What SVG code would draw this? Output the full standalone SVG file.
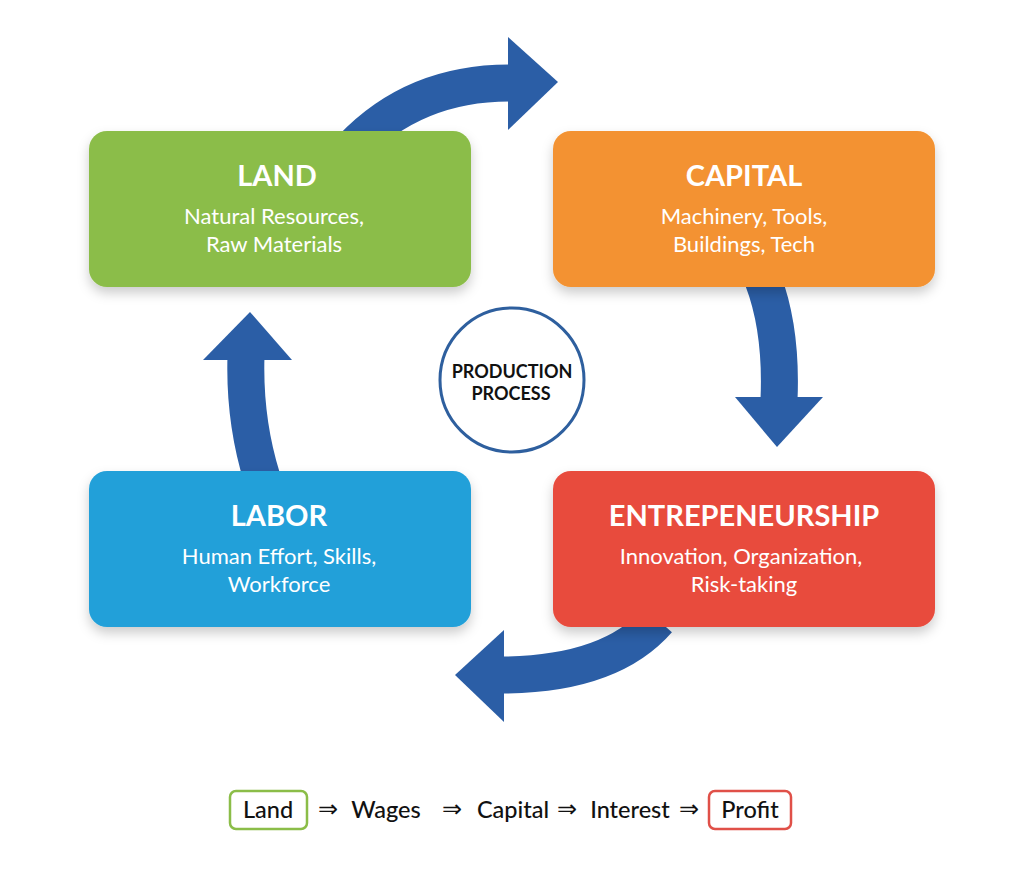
<svg xmlns="http://www.w3.org/2000/svg" width="1024" height="889" viewBox="0 0 1024 889">
<defs>
<style>
.box{stroke:none}
.t{font-family:Lato,"Liberation Sans",sans-serif;fill:#fff;text-anchor:middle}
.h{font-size:29px;font-weight:700}
.s{font-size:22px}
.arr{fill:none;stroke:#2b5ea6;stroke-width:37}
.head{fill:#2b5ea6}
.lg{font-family:Lato,"Liberation Sans",sans-serif;font-size:23.5px;fill:#111;font-weight:500}
.pp{font-family:Lato,"Liberation Sans",sans-serif;font-size:18px;font-weight:700;fill:#111;text-anchor:middle}
</style>
<filter id="sh" x="-10%" y="-10%" width="120%" height="140%">
<feDropShadow dx="0" dy="6" stdDeviation="6" flood-color="#000" flood-opacity="0.2"/>
</filter>
</defs>
<rect width="1024" height="889" fill="#fff"/>
<g id="connectors">
<path class="arr" d="M352,148 Q415,82 512,83"/>
<polygon class="head" points="508,37 558,82 508,130"/>
<path class="arr" d="M763,280 Q782,330 779,400"/>
<polygon class="head" points="735,397 823,397 777,447"/>
<path class="arr" d="M658,620 Q610,675 500,675"/>
<polygon class="head" points="504,630 455,675 504,722"/>
<path class="arr" d="M262,478 Q244,420 246,356"/>
<polygon class="head" points="203,360 292,360 250,312"/>
</g>
<g id="land">
<rect class="box" x="89" y="131" width="382" height="156" rx="18" fill="#8bbd48" filter="url(#sh)"/>
<text class="t h" x="277" y="186">LAND</text>
<text class="t s" x="274" y="224">Natural Resources,</text>
<text class="t s" x="274" y="252">Raw Materials</text>
</g>
<g id="capital">
<rect class="box" x="553" y="131" width="382" height="156" rx="18" fill="#f39230" filter="url(#sh)"/>
<text class="t h" x="744" y="186">CAPITAL</text>
<text class="t s" x="744" y="224">Machinery, Tools,</text>
<text class="t s" x="744" y="252">Buildings, Tech</text>
</g>
<g id="labor">
<rect class="box" x="89" y="471" width="382" height="156" rx="18" fill="#22a0d9" filter="url(#sh)"/>
<text class="t h" x="279" y="526">LABOR</text>
<text class="t s" x="279" y="564">Human Effort, Skills,</text>
<text class="t s" x="279" y="592">Workforce</text>
</g>
<g id="entrepreneurship">
<rect class="box" x="553" y="471" width="382" height="156" rx="18" fill="#e84b3c" filter="url(#sh)"/>
<text class="t h" x="744" y="526">ENTREPENEURSHIP</text>
<text class="t s" x="741" y="564">Innovation, Organization,</text>
<text class="t s" x="744" y="592">Risk-taking</text>
</g>
<g id="production">
<circle cx="512" cy="380" r="72" fill="#fff" stroke="#2e5f9e" stroke-width="3"/>
<text class="pp" x="512" y="378">PRODUCTION</text>
<text class="pp" x="511" y="400">PROCESS</text>
</g>
<g id="legend">
<rect x="230" y="791" width="77" height="38" rx="6" fill="#fff" stroke="#8bbd48" stroke-width="2.5"/>
<rect x="709" y="791" width="82" height="38" rx="6" fill="#fff" stroke="#e05048" stroke-width="2.5"/>
<text class="lg" x="268" y="818" text-anchor="middle">Land</text>
<text class="lg" x="328" y="817" text-anchor="middle">⇒</text>
<text class="lg" x="386" y="818" text-anchor="middle">Wages</text>
<text class="lg" x="452" y="817" text-anchor="middle">⇒</text>
<text class="lg" x="513" y="818" text-anchor="middle">Capital</text>
<text class="lg" x="567" y="817" text-anchor="middle">⇒</text>
<text class="lg" x="630" y="818" text-anchor="middle">Interest</text>
<text class="lg" x="689" y="817" text-anchor="middle">⇒</text>
<text class="lg" x="750" y="818" text-anchor="middle">Profit</text>
</g>
</svg>
